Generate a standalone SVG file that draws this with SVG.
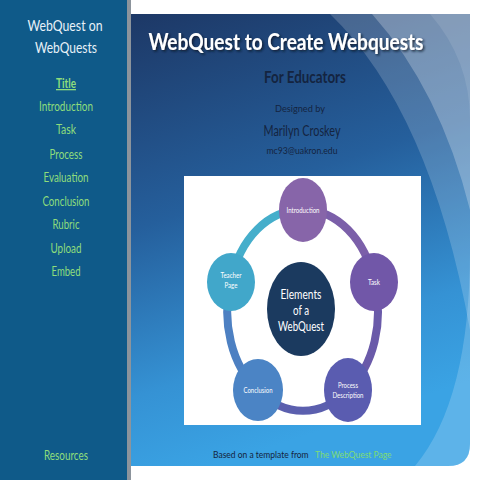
<svg xmlns="http://www.w3.org/2000/svg" width="480" height="480" viewBox="0 0 480 480">
<defs>
<linearGradient id="bg" x1="0" y1="0" x2="0.25" y2="1">
<stop offset="0" stop-color="#1d3866"/>
<stop offset="0.45" stop-color="#255f9c"/>
<stop offset="0.8" stop-color="#3592d4"/>
<stop offset="1" stop-color="#3aa3e4"/>
</linearGradient>
<clipPath id="panel"><path d="M131 14 H470 V444 Q470 466 448 466 H131 Z"/></clipPath>
<filter id="sh" x="-5%" y="-30%" width="110%" height="160%">
<feDropShadow dx="1.5" dy="1.5" stdDeviation="0.8" flood-color="#081528" flood-opacity="0.85"/>
</filter>
<style>
text{font-family:Lato,"Open Sans","Liberation Sans",sans-serif;text-anchor:middle}
.side{font-size:13px;fill:#8edd7c}
.head{font-size:15px;fill:#e8f1f8}
.dark{fill:#142440}
.cl{font-size:7px;fill:#ffffff}
.big{font-size:13px;fill:#ffffff}
.ring{fill:none;stroke-width:8}
</style>
</defs>
<rect width="480" height="480" fill="#ffffff"/>
<!-- sidebar -->
<rect x="0" y="0" width="127" height="480" fill="#0f5a89"/>
<rect x="127" y="0" width="4" height="480" fill="#8c949c"/>
<!-- main panel -->
<g clip-path="url(#panel)">
<rect x="131" y="14" width="339" height="452" fill="url(#bg)"/>
<path d="M330 14 Q430 110 470 330 V14 Z" fill="#ffffff" opacity="0.18"/>
<path d="M372 14 Q440 90 470 210 V14 Z" fill="#ffffff" opacity="0.25"/>
<path d="M430 14 Q470 60 470 120 V14 Z" fill="#ffffff" opacity="0.1"/>
<path d="M470 250 Q470 400 415 466 H470 Z" fill="#ffffff" opacity="0.18"/>
</g>
<!-- sidebar texts -->
<text class="head" x="65" y="31" textLength="75" lengthAdjust="spacingAndGlyphs">WebQuest on</text>
<text class="head" x="66" y="53" textLength="62" lengthAdjust="spacingAndGlyphs">WebQuests</text>
<text class="side" x="66" y="88" font-weight="bold" text-decoration="underline" textLength="20" lengthAdjust="spacingAndGlyphs">Title</text>
<text class="side" x="66" y="111" textLength="54" lengthAdjust="spacingAndGlyphs">Introduction</text>
<text class="side" x="66" y="134" textLength="20" lengthAdjust="spacingAndGlyphs">Task</text>
<text class="side" x="66" y="159" textLength="33" lengthAdjust="spacingAndGlyphs">Process</text>
<text class="side" x="66" y="182" textLength="45" lengthAdjust="spacingAndGlyphs">Evaluation</text>
<text class="side" x="66" y="206" textLength="47" lengthAdjust="spacingAndGlyphs">Conclusion</text>
<text class="side" x="66" y="229" textLength="27" lengthAdjust="spacingAndGlyphs">Rubric</text>
<text class="side" x="66" y="253" textLength="31" lengthAdjust="spacingAndGlyphs">Upload</text>
<text class="side" x="66" y="276" textLength="29" lengthAdjust="spacingAndGlyphs">Embed</text>
<text class="side" x="66" y="460" textLength="44" lengthAdjust="spacingAndGlyphs">Resources</text>
<!-- main texts -->
<text x="286" y="50" font-size="23" font-weight="bold" fill="#ffffff" textLength="275" lengthAdjust="spacingAndGlyphs" filter="url(#sh)">WebQuest to Create Webquests</text>
<text class="dark" x="305" y="83" font-size="17.5" font-weight="bold" textLength="82" lengthAdjust="spacingAndGlyphs">For Educators</text>
<text class="dark" x="300" y="112" font-size="10" textLength="50" lengthAdjust="spacingAndGlyphs">Designed by</text>
<text class="dark" x="302" y="136" font-size="14.5" textLength="77" lengthAdjust="spacingAndGlyphs">Marilyn Croskey</text>
<text class="dark" x="302" y="154" font-size="10" textLength="71" lengthAdjust="spacingAndGlyphs">mc93@uakron.edu</text>
<g transform="translate(213 458) scale(0.85 1)">
<text class="dark" x="0" y="0" font-size="10" style="text-anchor:start">Based on a template from</text>
<text x="120" y="0" font-size="10" fill="#7fdc74" style="text-anchor:start">The WebQuest Page</text>
</g>
<!-- diagram image box -->
<rect x="184" y="176" width="237" height="249" fill="#ffffff"/>
<g id="connectors">
<path class="ring" stroke="#7b5fa9" d="M303 210 A72 95 0 0 1 374 282"/>
<path class="ring" stroke="#6a5aa9" d="M374 282 A72 95 0 0 1 348 390"/>
<path class="ring" stroke="#5b5fae" d="M348 390 A72 95 0 0 1 258 390"/>
<path class="ring" stroke="#4d80c2" d="M258 390 A72 95 0 0 1 231 282"/>
<path class="ring" stroke="#45aecb" d="M231 282 A72 95 0 0 1 303 210"/>
</g>
<g id="introduction">
<ellipse cx="303" cy="210" rx="24" ry="32" fill="#8765a9"/>
<text class="cl" x="303" y="213" textLength="33" lengthAdjust="spacingAndGlyphs">Introduction</text>
</g>
<g id="task">
<ellipse cx="374" cy="282" rx="24" ry="29" fill="#7157a8"/>
<text class="cl" x="374" y="285" textLength="12" lengthAdjust="spacingAndGlyphs">Task</text>
</g>
<g id="process">
<ellipse cx="348" cy="390" rx="24" ry="32" fill="#5a5cb0"/>
<text class="cl" x="348" y="388" textLength="20" lengthAdjust="spacingAndGlyphs">Process</text>
<text class="cl" x="348" y="398" textLength="31" lengthAdjust="spacingAndGlyphs">Description</text>
</g>
<g id="conclusion">
<ellipse cx="258" cy="390" rx="25" ry="31" fill="#4b84c5"/>
<text class="cl" x="258" y="393" textLength="29" lengthAdjust="spacingAndGlyphs">Conclusion</text>
</g>
<g id="teacher">
<ellipse cx="231" cy="282" rx="24" ry="29" fill="#41a7ca"/>
<text class="cl" x="231" y="278" textLength="21" lengthAdjust="spacingAndGlyphs">Teacher</text>
<text class="cl" x="231" y="288" textLength="13" lengthAdjust="spacingAndGlyphs">Page</text>
</g>
<g id="center">
<ellipse cx="301" cy="309" rx="34" ry="47" fill="#1b3a5f"/>
<text class="big" x="301" y="299" textLength="41" lengthAdjust="spacingAndGlyphs">Elements</text>
<text class="big" x="301" y="315" textLength="16" lengthAdjust="spacingAndGlyphs">of a</text>
<text class="big" x="301" y="331" textLength="46" lengthAdjust="spacingAndGlyphs">WebQuest</text>
</g>
</svg>
